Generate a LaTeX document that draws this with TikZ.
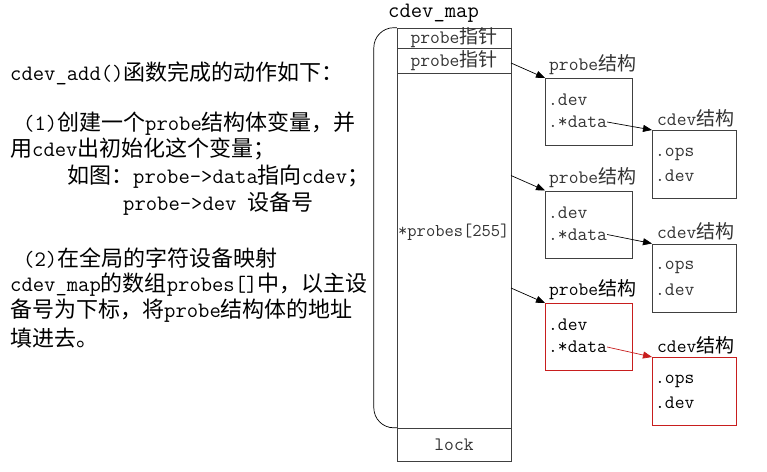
\documentclass[tikz,border=0pt]{standalone}
\usepackage{fontspec}
\renewcommand{\familydefault}{\ttdefault}
\newfontfamily\zh{Noto Sans CJK SC}
\newcommand{\hz}[1]{{\zh #1}}
\usetikzlibrary{arrows.meta}
\definecolor{boxred}{RGB}{200,30,30}
\tikzstyle{note}=[anchor=west,inner sep=0pt,font=\fontsize{22}{26}\selectfont]
\tikzstyle{cell}=[draw=black!75,minimum width=114pt,inner sep=0pt,text=black!80,font=\fontsize{19}{22}\selectfont]
\tikzstyle{field}=[anchor=west,inner sep=0pt,font=\fontsize{19}{22}\selectfont]
\tikzstyle{struct title}=[anchor=south west,inner xsep=4pt,inner ysep=3pt,font=\fontsize{19}{22}\selectfont]
\tikzstyle{probe box}=[anchor=north west,minimum width=87pt,minimum height=67pt,inner sep=0pt]
\tikzstyle{cdev box}=[anchor=north west,minimum width=84pt,minimum height=68pt,inner sep=0pt]
\tikzstyle{ptr}=[draw,line width=0.7pt,-{Triangle[length=9pt,width=7pt]}]

\begin{document}
\begin{tikzpicture}[x=1pt,y=-1pt]
    \useasboundingbox (0,0) rectangle (767,471);

    % left side text
    \foreach \name/\pos/\words in {
        {n1/(10,73)/cdev\_add()\hz{函数完成的动作如下：}},
        {n2/(23,124)/(1)\hz{创建一个}probe\hz{结构体变量，并}},
        {n3/(10,149)/\hz{用}cdev\hz{出初始化这个变量；}},
        {n4/(67,177)/\hz{如图：}probe->data\hz{指向}cdev\hz{；}},
        {n5/(123,204)/probe->dev \hz{设备号}},
        {n6/(23,258)/(2)\hz{在全局的字符设备映射}},
        {n7/(10,285)/cdev\_map\hz{的数组}probes[]\hz{中，以主设}},
        {n8/(10,311)/\hz{备号为下标，将}probe\hz{结构体的地址}},
        {n9/(10,338)/\hz{填进去。}}}
        \node[note] (\name) at \pos {\words};

    % cdev_map
    \node[note] (mapname) at (388,13) {cdev\_map};
    \node[cell,minimum height=20pt] (slot1) at (454,38) {probe\hz{指针}};
    \node[cell,minimum height=25pt] (slot2) at (454,60.5) {probe\hz{指针}};
    \node[cell,minimum height=355pt] (body) at (454,250.5) {};
    \node[cell,minimum height=33pt] (lock) at (454,444.5) {lock};
    \node[field,text=black!80,font=\fontsize{18}{22}\selectfont] (probes) at (398,232) {*probes[255]};
    \draw[line width=0.7pt,rounded corners=20pt] (slot1.north west) -- ++(-23,0) |- (lock.north west);

    % probe and cdev structures
    \foreach \i/\col/\acol/\txt in {1/black!75/black/black!80, 2/black!75/black/black!80, 3/boxred/boxred/black} {
        \pgfmathsetmacro\py{78+112.5*(\i-1)}
        \pgfmathsetmacro\cy{130+113.5*(\i-1)}
        \node[probe box,draw=\col] (pb\i) at (545,\py) {};
        \node[struct title,text=\txt] at (pb\i.north west) {probe\hz{结构}};
        \node[field,text=\txt] (pb\i dev) at (548,{\py+22}) {.dev};
        \node[field,text=\txt] (pb\i data) at (548,{\py+44}) {.*data};
        \node[cdev box,draw=\col] (cd\i) at (652,\cy) {};
        \node[struct title,inner xsep=5pt,text=\txt] at (cd\i.north west) {cdev\hz{结构}};
        \node[field,text=\txt] (cd\i ops) at (655,{\cy+24}) {.ops};
        \node[field,text=\txt] (cd\i dev) at (655,{\cy+46}) {.dev};
        \coordinate (m\i) at (511,{\py-15});
        \path[ptr] (m\i) -- (pb\i.north west);
        \path[ptr,\acol] (pb\i data.east) -- (cd\i.north west);
    }
\end{tikzpicture}
\end{document}
